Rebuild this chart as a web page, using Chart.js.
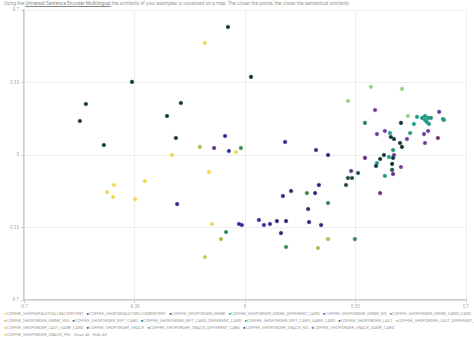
<!DOCTYPE html>
<html lang="en">

<head>
    <meta charset="UTF-8">
    <title>Similarity map</title>
    <script src="https://cdn.jsdelivr.net/npm/chart.js"></script>
    <style>
        body { margin: 0; width: 474px; height: 337px; background: #fff; font-family: Roboto, sans-serif; overflow: hidden; }
        #intro { position: absolute; left: 4px; top: 1px; font-size: 4.8px; color: #999; white-space: nowrap; }
        #intro u { color: #888; }
        #box { position: absolute; left: 0; top: 0; width: 474px; height: 310px; }
        #legenda { position: absolute; left: 4px; top: 310px; font-size: 4.1px; color: #999; line-height: 7px; white-space: nowrap; }
        #legenda span { margin-right: 3px; }
        #legenda b { font-weight: normal; }
    </style>
</head>

<body>
    <div id="intro">Using the <u>Universal Sentence Encoder Multilingual</u> the similarity of your examples is visualised on a map. The closer the points, the closer the semantical similarity.</div>
    <div id="box"><canvas id="myChart"></canvas></div>
    <div id="legenda"></div>
</body>

</html>

<script>
    const intents = [
        'COFFEE_SHOPDEFAULTFALLBACKINTENT',
        'COFFEE_SHOPDEFAULTWELCOMEINTENT',
        'COFFEE_SHOPORDER_DRINK',
        'COFFEE_SHOPORDER_DRINK_DIFFERENT_CARD',
        'COFFEE_SHOPORDER_DRINK_NO',
        'COFFEE_SHOPORDER_DRINK_SAME_CARD',
        'COFFEE_SHOPORDER_DRINK_YES',
        'COFFEE_SHOPORDER_GIFT_CARD',
        'COFFEE_SHOPORDER_GIFT_CARD_DIFFERENT_CARD',
        'COFFEE_SHOPORDER_GIFT_CARD_SAME_CARD',
        'COFFEE_SHOPORDER_LAST',
        'COFFEE_SHOPORDER_LAST_DIFFERENT_CARD',
        'COFFEE_SHOPORDER_LAST_SAME_CARD',
        'COFFEE_SHOPORDER_SNACK',
        'COFFEE_SHOPORDER_SNACK_DIFFERENT_CARD',
        'COFFEE_SHOPORDER_SNACK_NO',
        'COFFEE_SHOPORDER_SNACK_SAME_CARD',
        'COFFEE_SHOPORDER_SNACK_YES'
    ];

    const cores = [
        '#eed84e', '#2b2a86', '#0e3a30', '#23998a', '#5e2f86', '#2f8a4f',
        '#b5b550', '#3b2b9a', '#1a4a3c', '#2a7a58', '#7a2a6a', '#98cf80',
        '#c9c85a', '#123038', '#1f9384', '#2e2278', '#6a3a9a', '#e8cf48'
    ];

    const legendRows = [6, 6, 5, 1];
    const axisTicks = [-0.7, -0.35, 0, 0.35, 0.7];

    // pontos por intent: [x, y]
    const fallback = [[-0.127, 0.541], [-0.029, 0.014], [-0.231, 0], [-0.415, -0.145], [-0.437, -0.179], [-0.418, -0.203], [-0.348, -0.213], [-0.317, -0.126], [-0.114, -0.082], [-0.105, -0.333]];
    const welcome = [[-0.063, 0.092], [-0.051, 0.019], [0.127, 0.063], [0.225, 0.024], [-0.215, -0.237]];
    const drink = [[-0.358, 0.353], [-0.504, 0.246], [-0.523, 0.164], [-0.447, 0.048], [-0.203, 0.251], [-0.247, 0.188], [-0.219, 0.082]];
    const drinkDiff = [[0.443, -0.101], [0.459, 0.106], [0.523, 0.106], [0.535, 0.150], [0.545, 0.184]];
    const drinkNo = [[-0.098, 0.034], [0.380, -0.014], [0.336, -0.077], [0.469, -0.092]];
    const drinkSame = [[-0.013, 0.034], [-0.060, -0.372], [0.130, -0.444], [0.196, -0.184], [0.348, -0.406]];
    const drinkYes = [[-0.143, 0.039], [0.231, -0.449], [0.263, -0.406], [-0.076, -0.406]];
    const gift = [[-0.019, -0.333], [-0.010, -0.338], [0.044, -0.314], [0.060, -0.338], [0.079, -0.333]];
    const giftDiff = [[0.358, -0.087], [0.326, -0.111], [0.339, -0.111], [0.320, -0.145], [0.466, -0.072]];
    const giftSame = [[0.263, -0.232], [0.380, 0.155]];
    const last = [[0.428, -0.184], [0.611, 0.082]];
    const lastDiff = [[0.399, 0.329], [0.497, 0.319], [0.326, 0.261], [0.516, 0.188]];
    const lastSame = [[-0.127, -0.493]];
    const snack = [[-0.054, 0.618], [0.019, 0.377], [0.494, 0.155], [0.462, 0.087], [0.472, 0.077], [0.491, 0.058], [0.497, 0.039], [0.440, 0], [0.428, -0.019], [0.415, -0.053], [0.466, -0.043], [0.469, -0.014]];
    const snackDiff = [[0.561, 0.179], [0.570, 0.188], [0.570, 0.169], [0.580, 0.179], [0.576, 0.159], [0.583, 0.150], [0.589, 0.179], [0.627, 0.174], [0.630, 0.169], [0.469, 0.024], [0.456, -0.010], [0.418, -0.039]];
    const snackNo = [[0.101, -0.319], [0.130, -0.319], [0.114, -0.377], [0.120, -0.198], [0.146, -0.174], [0.222, -0.184], [0.234, -0.145], [0.2, -0.261], [0.203, -0.324], [0.241, -0.338], [0.263, 0]];
    const snackSame = [[0.615, 0.208], [0.567, 0.101], [0.418, 0.101], [0.412, 0.217], [0.443, 0.116], [0.513, 0.077], [0.570, 0.058], [0.472, 0], [0.494, -0.058], [0.58, 0.116]];
    const snackYes = [];

    const pontos = [fallback, welcome, drink, drinkDiff, drinkNo, drinkSame, drinkYes, gift, giftDiff, giftSame,
        last, lastDiff, lastSame, snack, snackDiff, snackNo, snackSame, snackYes];

    const datasets = intents.map(function (nome, i) {
        return {
            label: nome,
            data: pontos[i].map(p => ({ x: p[0], y: p[1] })),
            backgroundColor: cores[i],
            borderColor: cores[i],
            borderWidth: 0.5,
            pointRadius: 1.8,
            pointHoverRadius: 3
        };
    });

    // legenda em html, igual a original
    var legenda = document.getElementById('legenda');
    var k = 0;
    legendRows.forEach(function (n, r) {
        var linha = document.createElement('div');
        for (var j = 0; j < n; j++) {
            linha.innerHTML += '<span><b style="color:' + cores[k] + '">&#9679;</b>' + intents[k] + '</span>';
            k++;
        }
        if (r == legendRows.length - 1) {
            linha.innerHTML += '<span>Show All</span><span>Hide All</span>';
        }
        legenda.appendChild(linha);
    });

    const fonte = { family: 'Roboto', size: 4.5 };

    new Chart(document.getElementById('myChart'), {
        type: 'scatter',
        data: { datasets: datasets },
        options: {
            responsive: true,
            maintainAspectRatio: false,
            animation: false,
            layout: { padding: { top: 10, right: 8, left: 0, bottom: 0 } },
            plugins: { legend: { display: false }, tooltip: { enabled: false } },
            scales: {
                x: {
                    min: -0.7, max: 0.7,
                    afterBuildTicks: function (s) { s.ticks = axisTicks.map(v => ({ value: v })); },
                    afterFit: function (s) { s.height = 10; },
                    ticks: { color: '#aaa', font: fonte, padding: 1, maxRotation: 0, callback: v => String(v) },
                    grid: { color: '#eeeeee', tickLength: 3, tickColor: '#cccccc' },
                    border: { color: '#cccccc', width: 1.5 }
                },
                y: {
                    min: -0.7, max: 0.7,
                    afterBuildTicks: function (s) { s.ticks = axisTicks.map(v => ({ value: v })); },
                    afterFit: function (s) { s.width = 24; },
                    ticks: { color: '#aaa', font: fonte, padding: 2, callback: v => String(v) },
                    grid: { color: '#eeeeee', tickLength: 3, tickColor: '#cccccc' },
                    border: { color: '#cccccc', width: 1.5 }
                }
            }
        }
    });
</script>
